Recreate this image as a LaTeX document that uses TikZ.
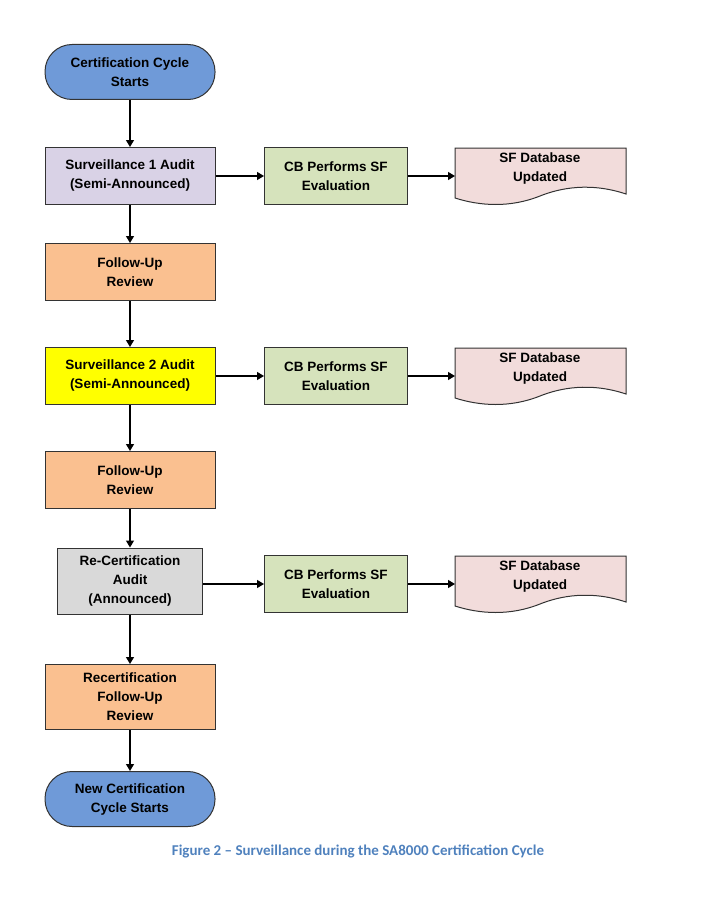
\documentclass[tikz,border=0pt]{standalone}
\usepackage{fontspec}
\setmainfont{Liberation Sans}
\newfontfamily\capfont{Carlito}
\usetikzlibrary{arrows.meta}
\definecolor{tblue}{HTML}{6F9AD8}
\definecolor{lav}{HTML}{D9D2E6}
\definecolor{grn}{HTML}{D6E3BC}
\definecolor{pnk}{HTML}{F2DCDB}
\definecolor{org}{HTML}{FAC090}
\definecolor{yel}{HTML}{FFFF00}
\definecolor{gry}{HTML}{D9D9D9}
\definecolor{capc}{HTML}{4F81BD}
\begin{document}
\begin{tikzpicture}[x=1pt,y=-1pt,
  base/.style={draw=black!80,line width=1pt,align=center,font=\fontsize{13.5}{19}\selectfont\bfseries,inner sep=2pt},
  term/.style={base,fill=tblue,rounded corners=27pt,minimum width=170pt,minimum height=55pt},
  proc/.style={base,minimum width=170pt,minimum height=57pt},
  cb/.style={base,fill=grn,minimum width=143pt,minimum height=57pt},
  arr/.style={-{Triangle[length=7pt,width=8pt]},line width=1.3pt,black}]
\useasboundingbox (0,0) rectangle (702,923);
\node[term] (start) at (130,72) {Certification Cycle\\Starts};
\node[proc,fill=lav] (s1) at (130,176) {Surveillance 1 Audit\\(Semi-Announced)};
\node[cb] (cb1) at (336,176) {CB Performs SF\\Evaluation};
\node[proc,fill=org] (f1) at (130,272) {Follow-Up\\Review};
\node[proc,fill=yel] (s2) at (130,376) {Surveillance 2 Audit\\(Semi-Announced)};
\node[cb] (cb2) at (336,376) {CB Performs SF\\Evaluation};
\node[proc,fill=org] (f2) at (130,480) {Follow-Up\\Review};
\node[proc,fill=gry,minimum width=145pt,minimum height=66pt] (rc) at (130,581) {Re-Certification\\Audit\\(Announced)};
\node[cb] (cb3) at (336,584) {CB Performs SF\\Evaluation};
\node[proc,fill=org,minimum height=65pt] (rf) at (130,697) {Recertification\\Follow-Up\\Review};
\node[term] (end) at (130,799) {New Certification\\Cycle Starts};
% documents
\foreach \n/\y in {d1/148,d2/348,d3/556}{
  \filldraw[fill=pnk,draw=black!80,line width=1pt] (455,\y) -- (626,\y) -- (626,\y+46)
    .. controls (590,\y+34) and (560,\y+40) .. (540,\y+48)
    .. controls (510,\y+60) and (480,\y+58) .. (455,\y+50) -- cycle;
  \node[font=\fontsize{13.5}{19}\selectfont\bfseries,align=center] (\n) at (540,\y+21) {SF Database\\Updated};
  \coordinate (\n w) at (455,\y+28);
}
\draw[arr] (start) -- (s1);
\draw[arr] (s1) -- (f1);
\draw[arr] (f1) -- (s2);
\draw[arr] (s2) -- (f2);
\draw[arr] (f2) -- (rc);
\draw[arr] (rc) -- (rf);
\draw[arr] (rf) -- (end);
\draw[arr] (s1) -- (cb1);
\draw[arr] (s2) -- (cb2);
\draw[arr] (rc.east|-cb3) -- (cb3);
\draw[arr] (cb1) -- (d1w);
\draw[arr] (cb2) -- (d2w);
\draw[arr] (cb3) -- (d3w);
\node[font=\capfont\fontsize{15}{17}\selectfont\bfseries,text=capc] (cap) at (358,851) {Figure 2 – Surveillance during the SA8000 Certification Cycle};
\end{tikzpicture}
\end{document}
